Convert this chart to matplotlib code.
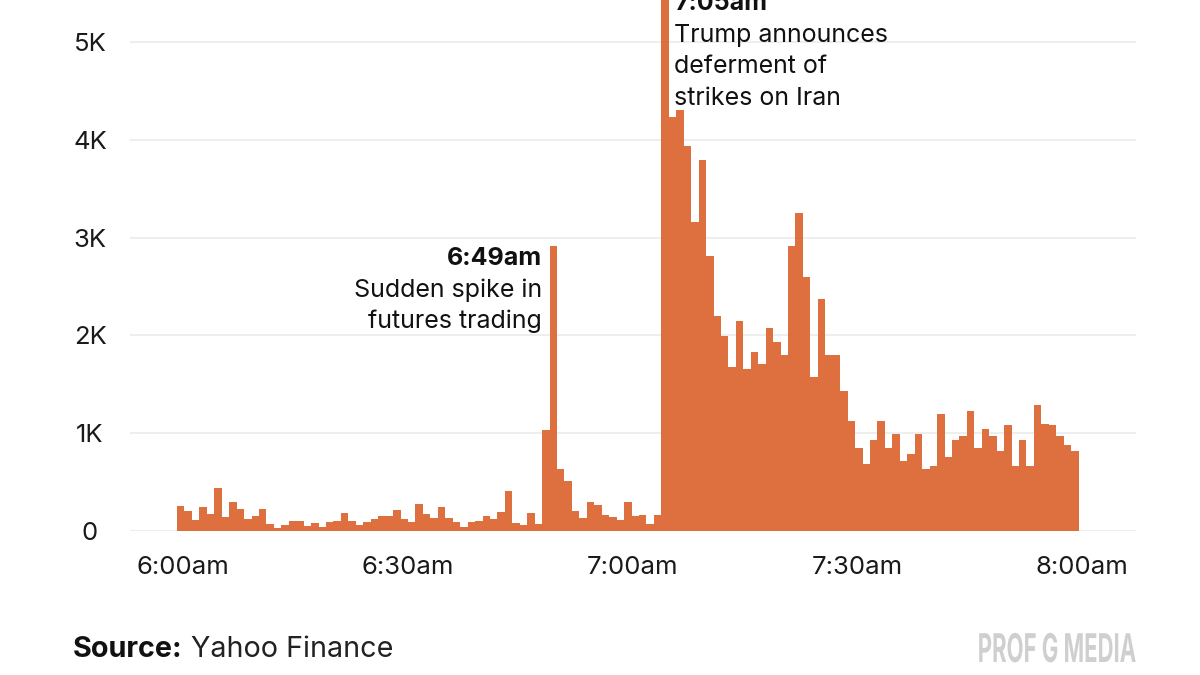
import matplotlib
matplotlib.use('Agg')
import matplotlib.pyplot as plt
from matplotlib.patheffects import AbstractPathEffect
from matplotlib.transforms import Affine2D

# contracts per minute, 6:00am to 8:00am
volume = [
    256, 208, 113, 242, 170, 440, 147, 300, 228, 126,
    150, 228, 75, 27, 65, 99, 99, 51, 85, 44,
    92, 99, 188, 99, 61, 89, 123, 153, 153, 211,
    123, 89, 276, 170, 136, 245, 130, 92, 44, 89,
    99, 153, 123, 194, 412, 85, 61, 188, 72, 1030,
    2915, 638, 511, 201, 137, 300, 264, 159, 145, 109,
    293, 152, 166, 74, 166, 5800, 4230, 4300, 3940, 3155,
    3790, 2816, 2200, 1995, 1674, 2147, 1653, 1833, 1703, 2073,
    1928, 1798, 2915, 3250, 2594, 1572, 2376, 1798, 1798, 1428,
    1128, 847, 684, 929, 1129, 847, 993, 711, 786, 993,
    639, 660, 1200, 752, 929, 973, 1228, 847, 1041, 973,
    823, 1085, 660, 929, 660, 1293, 1099, 1085, 973, 878,
    823,
]
time_labels = ['6:00am', '6:30am', '7:00am', '7:30am', '8:00am']
time_ticks = [0.25, 30.4, 60.6, 90.8, 121]
y_values = [0, 1000, 2000, 3000, 4000, 5000]
y_labels = ['0', '1K', '2K', '3K', '4K', '5K']

plt.rcParams['font.family'] = ['Inter', 'DejaVu Sans']

W, H = 1200, 675
fig = plt.figure(figsize=(12, 6.75), dpi=100, facecolor='white')
ax = fig.add_axes([130 / W, (H - 531) / H, (1136 - 130) / W, 531 / H])

ax.bar(range(len(volume)), volume, width=1.0, color='#DE703F', zorder=3)
ax.set_xlim(-6.81, 128.2)
ax.set_ylim(0, 5429)

ax.set_yticks(y_values)
ax.set_yticklabels(y_labels, ha='center')
ax.set_xticks(time_ticks)
ax.set_xticklabels(time_labels)
ax.tick_params(axis='y', length=0, pad=28.8, labelsize=18.5, labelcolor='#1a1a1a')
ax.tick_params(axis='x', length=0, pad=18, labelsize=18.5, labelcolor='#1a1a1a')
ax.grid(axis='y', color='#eeeeee', lw=1.4, zorder=0)
ax.set_axisbelow(True)
for side in ax.spines.values():
    side.set_visible(False)


# no condensed face installed, so squeeze the wordmark sideways, right edge fixed
class Squeeze(AbstractPathEffect):
    def __init__(self, sx):
        super().__init__()
        self.sx = sx

    def draw_path(self, renderer, gc, tpath, affine, rgbFace=None):
        x1 = tpath.get_extents().x1
        squeeze = Affine2D().translate(-x1, 0).scale(self.sx, 1).translate(x1, 0)
        renderer.draw_path(gc, tpath, squeeze + affine, rgbFace)


# annotations and footer are placed in pixel coordinates of the reference
def px_text(x, y, s, **kw):
    return fig.text(x / W, (H - y) / H, s, va='baseline', color=kw.pop('color', '#111111'), **kw)


px_text(542, 265, '6:49am', ha='right', fontsize=18, fontweight='bold')
px_text(542, 297, 'Sudden spike in', ha='right', fontsize=18)
px_text(542, 328, 'futures trading', ha='right', fontsize=18)

px_text(674, 10, '7:05am', ha='left', fontsize=18, fontweight='bold')
px_text(674, 42, 'Trump announces', ha='left', fontsize=18)
px_text(674, 73, 'deferment of', ha='left', fontsize=18)
px_text(674, 105, 'strikes on Iran', ha='left', fontsize=18)

px_text(73, 657, 'Source:', ha='left', fontsize=20.7, fontweight='bold')
px_text(191, 657, 'Yahoo Finance', ha='left', fontsize=20.7, color='#222222')
mark = px_text(1137, 662, 'PROF G MEDIA', ha='right', fontsize=28.5, fontweight='bold',
               color='#cfcfcf')
mark.set_path_effects([Squeeze(0.558)])

fig.savefig('out.png', dpi=100)
